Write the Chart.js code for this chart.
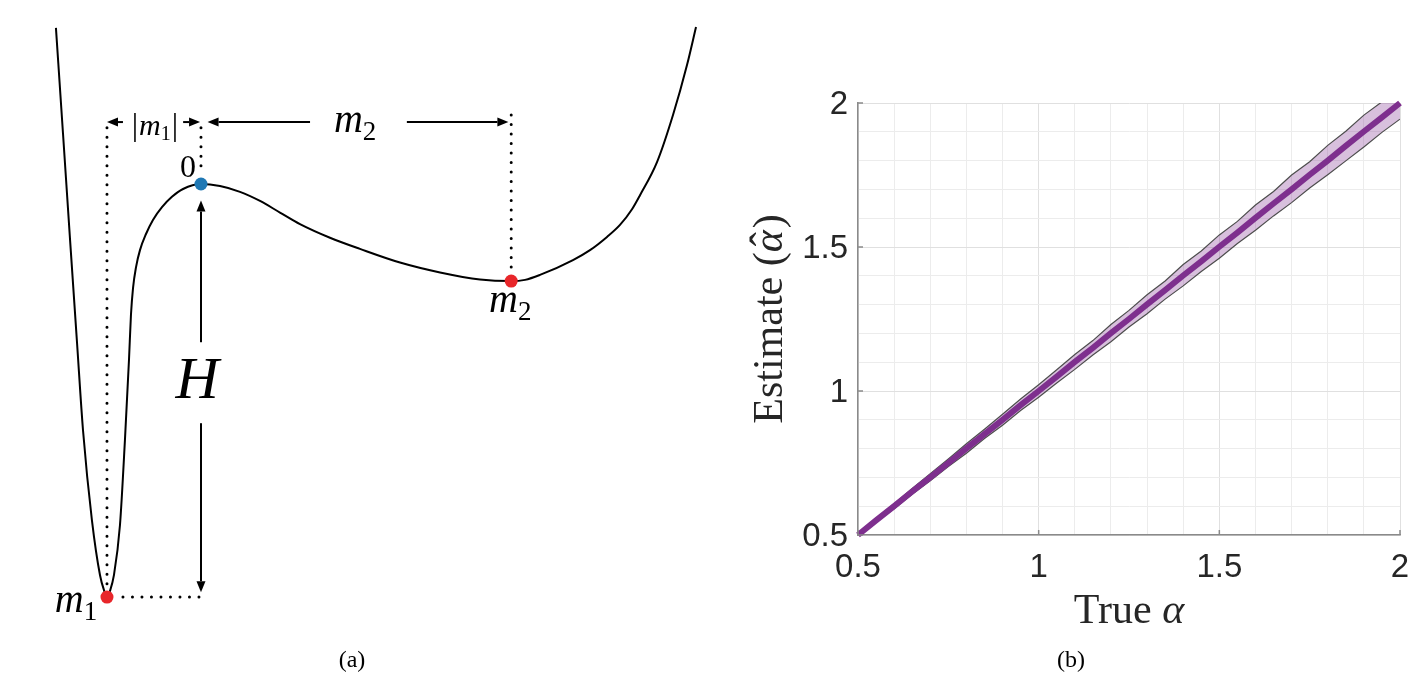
<!DOCTYPE html>
<html>
<head>
<meta charset="utf-8">
<script src="https://cdn.jsdelivr.net/npm/chart.js@4"></script>
<style>
  html, body { margin: 0; padding: 0; background: #fff; overflow: hidden; }
  #wrap { position: relative; width: 1415px; height: 676px; }
  canvas { position: absolute; top: 0; }
  #potential { left: 0; }
  #estimate { left: 720px; }
</style>
</head>
<body>
<div id="wrap">
  <canvas id="potential" width="720" height="676"></canvas>
  <canvas id="estimate" width="695" height="676"></canvas>
</div>
<script>
// ---- (a) double well potential: x in units of |m1|, y in units of H (barrier top = 0)
const curveX = [-1.543, -1.468, -1.394, -1.319, -1.255, -1.160, -1.074, -1.032, -1.000,
                -0.968, -0.926, -0.862, -0.809, -0.766, -0.745, -0.723, -0.691, -0.649, -0.585,
                -0.511, -0.415, -0.309, -0.191, 0.000,
                0.202, 0.415, 0.628, 0.840, 1.053, 1.372, 1.691, 2.117, 2.543, 2.968, 3.298,
                3.447, 3.606, 3.957, 4.138, 4.319, 4.457, 4.585, 4.670, 4.851, 5.021, 5.170, 5.266];
const curveY = [0.378, 0.123, -0.131, -0.383, -0.596, -0.814, -0.947, -0.983, -1.000,
                -0.985, -0.947, -0.826, -0.620, -0.426, -0.317, -0.252, -0.201, -0.160, -0.121,
                -0.087, -0.056, -0.031, -0.012, 0.000,
                -0.005, -0.019, -0.041, -0.069, -0.097, -0.130, -0.157, -0.190, -0.214, -0.231, -0.235,
                -0.232, -0.220, -0.184, -0.160, -0.128, -0.099, -0.061, -0.027, 0.053, 0.167, 0.288, 0.380];
const M1 = -1, M2 = 3.3, H = 1, E2 = -0.235;
const pointX = [M1, 0, M2];
const pointY = [-H, 0, E2];
const pointColors = ['#e8262a', '#1f78b4', '#e8262a'];

// ---- (b) estimate vs true alpha
const trueAlpha = [0.50, 0.55, 0.60, 0.65, 0.70, 0.75, 0.80, 0.85, 0.90, 0.95, 1.00, 1.05, 1.10, 1.15, 1.20, 1.25,
                   1.30, 1.35, 1.40, 1.45, 1.50, 1.55, 1.60, 1.65, 1.70, 1.75, 1.80, 1.85, 1.90, 1.95, 2.00];
const estMean  = [0.500, 0.551, 0.600, 0.651, 0.700, 0.750, 0.801, 0.850, 0.900, 0.951, 1.000, 1.050, 1.101, 1.150, 1.201, 1.250,
                  1.301, 1.350, 1.401, 1.450, 1.501, 1.550, 1.601, 1.651, 1.700, 1.751, 1.800, 1.851, 1.901, 1.950, 2.000];
const estUpper = [0.504, 0.558, 0.609, 0.662, 0.713, 0.764, 0.817, 0.867, 0.919, 0.972, 1.022, 1.074, 1.127, 1.175, 1.231, 1.280,
                  1.334, 1.382, 1.439, 1.486, 1.542, 1.589, 1.646, 1.693, 1.750, 1.796, 1.853, 1.902, 1.958, 2.004, 2.062];
const estLower = [0.496, 0.545, 0.591, 0.641, 0.688, 0.738, 0.784, 0.835, 0.881, 0.932, 0.978, 1.028, 1.075, 1.125, 1.171, 1.222,
                  1.268, 1.319, 1.365, 1.415, 1.461, 1.512, 1.558, 1.608, 1.654, 1.705, 1.751, 1.799, 1.847, 1.898, 1.944];
const majorTicks = [0.5, 1, 1.5, 2];

const SERIF = '"Liberation Serif", "Times New Roman", serif';
const SANS = '"Liberation Sans", Arial, sans-serif';

const toXY = (xs, ys) => xs.map((x, i) => ({ x: x, y: ys[i] }));

// escreve m_1 etc: partes com fonte e deslocamento vertical
function drawMath(ctx, parts, cx, baseY) {
    let w = 0;
    parts.forEach(p => { ctx.font = p.font; p.w = ctx.measureText(p.t).width + (p.kern || 0); w += p.w; });
    let x0 = cx - w / 2;
    ctx.textAlign = 'left';
    ctx.textBaseline = 'alphabetic';
    parts.forEach(p => {
        ctx.font = p.font;
        p.x = x0;
        ctx.fillText(p.t, x0, baseY + (p.dy || 0));
        x0 += p.w;
    });
    return parts;
}

function arrow(ctx, x1, y1, x2, y2) {
    const ang = Math.atan2(y2 - y1, x2 - x1);
    const len = 11, half = 4.5;
    const bx = x2 - len * Math.cos(ang), by = y2 - len * Math.sin(ang);
    ctx.beginPath();
    ctx.moveTo(x1, y1);
    ctx.lineTo(bx, by);
    ctx.stroke();
    ctx.beginPath();
    ctx.moveTo(x2, y2);
    ctx.lineTo(bx + half * Math.sin(ang), by - half * Math.cos(ang));
    ctx.lineTo(bx - half * Math.sin(ang), by + half * Math.cos(ang));
    ctx.closePath();
    ctx.fill();
}

const ARROW_Y = 0.15;

const guidesPlugin = {
    id: 'guides',
    beforeDatasetsDraw(chart) {
        const { ctx, scales: { x, y } } = chart;
        const X = v => x.getPixelForValue(v), Y = v => y.getPixelForValue(v);
        ctx.save();
        ctx.strokeStyle = '#000';
        ctx.lineWidth = 3;
        ctx.lineCap = 'round';
        ctx.setLineDash([0, 9.5]);
        const dotted = (x1, y1, x2, y2) => {
            ctx.beginPath();
            ctx.moveTo(X(x1), Y(y1));
            ctx.lineTo(X(x2), Y(y2));
            ctx.stroke();
        };
        dotted(M1, 0.136, M1, -0.985);
        dotted(0, 0.136, 0, 0.022);
        dotted(M2, 0.167, M2, E2 + 0.02);
        dotted(-0.83, -H, 0, -H);
        ctx.restore();
    },
    afterDatasetsDraw(chart) {
        const { ctx, scales: { x, y } } = chart;
        const X = v => x.getPixelForValue(v), Y = v => y.getPixelForValue(v);
        ctx.save();
        ctx.strokeStyle = '#000';
        ctx.fillStyle = '#000';
        ctx.lineWidth = 2;
        const arr = (x1, y1, x2, y2) => arrow(ctx, X(x1), Y(y1), X(x2), Y(y2));
        arr(-0.83, ARROW_Y, M1, ARROW_Y);
        arr(-0.19, ARROW_Y, -0.01, ARROW_Y);
        arr(1.16, ARROW_Y, 0.07, ARROW_Y);
        arr(2.19, ARROW_Y, M2 - 0.03, ARROW_Y);
        arr(0, -0.383, 0, -0.04);
        arr(0, -0.579, 0, -0.988);

        const mBig = `italic 40px ${SERIF}`, sub = `27px ${SERIF}`;
        drawMath(ctx, [{ t: '|', font: `32px ${SERIF}`, kern: 1 }, { t: 'm', font: `italic 30px ${SERIF}` },
                       { t: '1', font: `20px ${SERIF}`, dy: 5, kern: 1 }, { t: '|', font: `32px ${SERIF}` }], X(-0.49), Y(0.119));
        drawMath(ctx, [{ t: 'm', font: mBig }, { t: '2', font: sub, dy: 8 }], X(1.64), Y(0.126));
        drawMath(ctx, [{ t: '0', font: `32px ${SERIF}` }], X(-0.138), Y(0.017));
        drawMath(ctx, [{ t: 'm', font: mBig }, { t: '2', font: sub, dy: 8 }], X(3.29), Y(-0.31));
        drawMath(ctx, [{ t: 'm', font: mBig }, { t: '1', font: sub, dy: 8 }], X(-1.33), Y(-1.036));
        drawMath(ctx, [{ t: 'H', font: `italic 60px ${SERIF}` }], X(-0.04), Y(-0.518));

        ctx.font = `24px ${SERIF}`;
        ctx.textAlign = 'center';
        ctx.textBaseline = 'middle';
        ctx.fillText('(a)', 352, 661);
        ctx.restore();
    }
};

new Chart(document.getElementById('potential'), {
    type: 'scatter',
    data: {
        datasets: [
            {
                data: toXY(pointX, pointY),
                pointRadius: 6.5,
                pointBackgroundColor: pointColors,
                pointBorderWidth: 0,
                showLine: false,
                clip: false,
                order: 0
            },
            {
                data: toXY(curveX, curveY),
                showLine: true,
                borderColor: '#000',
                borderWidth: 2,
                pointRadius: 0,
                cubicInterpolationMode: 'monotone',
                order: 1
            }
        ]
    },
    options: {
        responsive: false,
        animation: false,
        layout: { padding: 0, autoPadding: false },
        plugins: { legend: { display: false }, tooltip: { enabled: false } },
        scales: {
            x: { type: 'linear', display: false, min: -2.138, max: 5.521 },
            y: { type: 'linear', display: false, min: -1.191, max: 0.4455 }
        }
    },
    plugins: [guidesPlugin]
});

// ---- (b)
const isMajor = v => Math.abs(v * 2 - Math.round(v * 2)) < 1e-6;
const AXIS_GRAY = '#8a8a8a';
const TITLE_FONT = 42;

const axesExtrasPlugin = {
    id: 'axesExtras',
    afterDraw(chart) {
        const { ctx, chartArea: a, scales: { x, y } } = chart;
        ctx.save();
        // ticks para dentro, como no matlab
        ctx.strokeStyle = AXIS_GRAY;
        ctx.lineWidth = 1.5;
        majorTicks.forEach(v => {
            const px = x.getPixelForValue(v), py = y.getPixelForValue(v);
            ctx.beginPath();
            ctx.moveTo(px, a.bottom);
            ctx.lineTo(px, a.bottom - 5);
            ctx.moveTo(a.left, py);
            ctx.lineTo(a.left + 5, py);
            ctx.stroke();
        });

        ctx.fillStyle = '#262626';
        const up = `${TITLE_FONT}px ${SERIF}`, it = `italic ${TITLE_FONT}px ${SERIF}`;
        // titulo x: True alpha
        const cx = (a.left + a.right) / 2;
        drawMath(ctx, [{ t: 'True ', font: up }, { t: 'α', font: it }], cx, 623);
        // titulo y: Estimate (alpha hat), girado
        ctx.save();
        ctx.translate(62, (a.top + a.bottom) / 2);
        ctx.rotate(-Math.PI / 2);
        const parts = drawMath(ctx, [{ t: 'Estimate (', font: up }, { t: 'α', font: it, kern: 2 }, { t: ')', font: up }], 0, 0);
        ctx.font = up;
        ctx.textAlign = 'center';
        ctx.fillText('ˆ', parts[1].x + parts[1].w / 2 + 1, -3);
        ctx.restore();

        ctx.fillStyle = '#000';
        ctx.font = `24px ${SERIF}`;
        ctx.textAlign = 'center';
        ctx.textBaseline = 'middle';
        ctx.fillText('(b)', 351, 661);
        ctx.restore();
    }
};

const axisCommon = {
    type: 'linear',
    min: 0.5,
    max: 2,
    grid: {
        color: ctx => isMajor(ctx.tick.value) ? '#e0e0e0' : '#ececec',
        lineWidth: 1,
        drawTicks: false
    },
    border: { display: true, color: AXIS_GRAY, width: 1.5 },
    ticks: {
        stepSize: 0.1,
        maxTicksLimit: 100,
        autoSkip: false,
        maxRotation: 0,
        color: '#262626',
        font: { family: SANS, size: 33 },
        callback: v => isMajor(v) ? String(Math.round(v * 10) / 10) : ''
    }
};

new Chart(document.getElementById('estimate'), {
    type: 'scatter',
    data: {
        datasets: [
            {
                data: toXY(trueAlpha, estMean),
                showLine: true,
                borderColor: '#7e2f8e',
                borderWidth: 6,
                pointRadius: 0,
                clip: 4,
                order: 0
            },
            {
                data: toXY(trueAlpha, estLower),
                showLine: true,
                borderColor: '#4d4d4d',
                borderWidth: 1.2,
                pointRadius: 0,
                order: 1
            },
            {
                data: toXY(trueAlpha, estUpper),
                showLine: true,
                borderColor: '#4d4d4d',
                borderWidth: 1.2,
                pointRadius: 0,
                fill: 1,
                backgroundColor: 'rgba(126, 47, 142, 0.3)',
                order: 2
            }
        ]
    },
    options: {
        responsive: false,
        animation: false,
        layout: { padding: { top: 103, right: 15, bottom: 0, left: 0 }, autoPadding: false },
        plugins: { legend: { display: false }, tooltip: { enabled: false } },
        scales: {
            x: {
                ...axisCommon,
                ticks: { ...axisCommon.ticks, padding: 13 },
                afterFit: s => { s.height = 141; s.paddingLeft = 0; s.paddingRight = 0; }
            },
            y: {
                ...axisCommon,
                ticks: { ...axisCommon.ticks, padding: 10, labelOffset: 2 },
                afterFit: s => { s.width = 138; }
            }
        }
    },
    plugins: [axesExtrasPlugin]
});
</script>
</body>
</html>
